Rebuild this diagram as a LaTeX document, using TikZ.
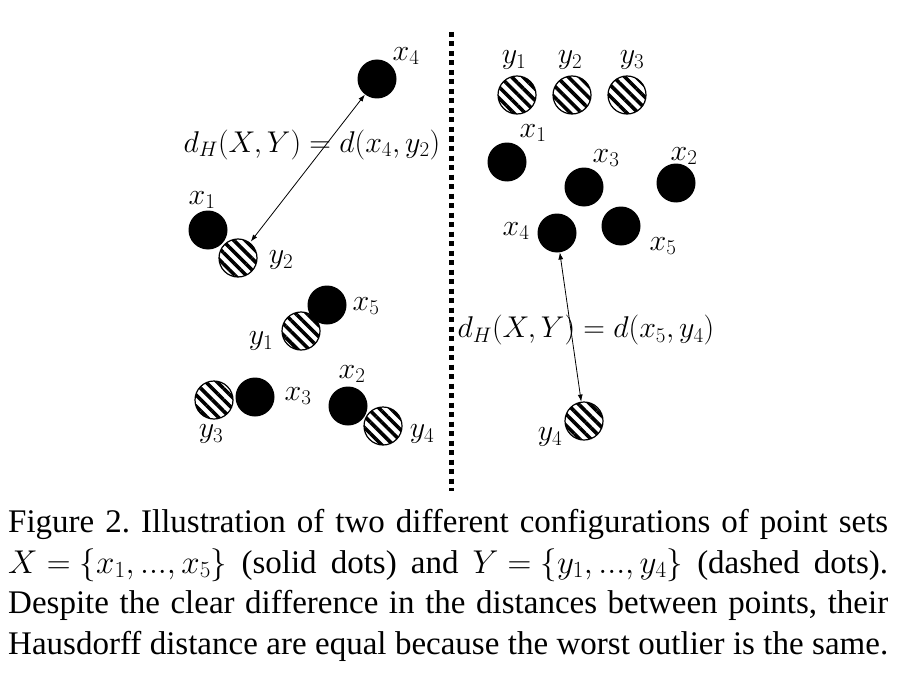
\RequirePackage{fix-cm}
\documentclass[tikz,border=0pt]{standalone}
\usepackage{amsmath}
\usepackage{fontspec}
\setmainfont{Liberation Serif}
\usepackage{tikz}
\usetikzlibrary{arrows.meta, patterns.meta}
\frenchspacing
\thickmuskip=5mu\relax

\begin{document}
\begin{tikzpicture}[x=1pt, y=-1pt,
  ptx/.style={circle, fill=black, minimum size=39pt, inner sep=0pt},
  pty/.style={circle, draw=black, line width=1.2pt, minimum size=38pt, inner sep=0pt,
              pattern={Lines[angle=-45, distance=8pt, line width=3.6pt]}},
  lbl/.style={inner sep=0pt, font=\fontsize{30}{34}\selectfont},
  arr/.style={{Latex[length=7pt,width=5pt]}-{Latex[length=7pt,width=5pt]}, line width=0.8pt},
  sepline/.style={line width=5pt, dash pattern=on 5pt off 4.5pt},
  capline/.style={anchor=base west, inner sep=0pt, font=\fontsize{33}{40}\selectfont}
]
  \useasboundingbox (0,0) rectangle (915,674);

  % left configuration
  \node[ptx] (lx4) at (377,79)  {};
  \node[ptx] (lx1) at (208,230) {};
  \node[pty] (ly2) at (238,258) {};
  \node[ptx] (lx5) at (327,305) {};
  \node[pty] (ly1) at (301,331) {};
  \node[pty] (ly3) at (214,400) {};
  \node[ptx] (lx3) at (255,397) {};
  \node[ptx] (lx2) at (348,406) {};
  \node[pty] (ly4) at (383,426) {};

  \node[lbl] (lx4l) at (406,56)  {$x_4$};
  \node[lbl] (lx1l) at (202,200) {$x_1$};
  \node[lbl] (ly2l) at (281,260) {$y_2$};
  \node[lbl] (lx5l) at (366,306) {$x_5$};
  \node[lbl] (ly1l) at (261,341) {$y_1$};
  \node[lbl] (lx3l) at (298,396) {$x_3$};
  \node[lbl] (lx2l) at (352,374) {$x_2$};
  \node[lbl] (ly3l) at (211,434) {$y_3$};
  \node[lbl] (ly4l) at (422,434) {$y_4$};

  \node[lbl] (lform) at (312,145) {$d_H(X,Y) = d(x_4,y_2)$};
  \draw[arr] (ly2) -- (lx4);

  % separator
  \coordinate (septop) at (451,32);
  \coordinate (sepbot) at (451,491);
  \draw[sepline] (septop) -- (sepbot);

  % right configuration
  \node[pty] (ry1) at (517,95)  {};
  \node[pty] (ry2) at (572,95)  {};
  \node[pty] (ry3) at (627,95)  {};
  \node[ptx] (rx1) at (507,162) {};
  \node[ptx] (rx3) at (584,187) {};
  \node[ptx] (rx2) at (676,183) {};
  \node[ptx] (rx4) at (557,233) {};
  \node[ptx] (rx5) at (621,226) {};
  \node[pty] (ry4) at (584,421) {};

  \node[lbl] (ry1l) at (514,60)  {$y_1$};
  \node[lbl] (ry2l) at (570,60)  {$y_2$};
  \node[lbl] (ry3l) at (632,60)  {$y_3$};
  \node[lbl] (rx1l) at (533,133) {$x_1$};
  \node[lbl] (rx3l) at (606,158) {$x_3$};
  \node[lbl] (rx2l) at (684,156) {$x_2$};
  \node[lbl] (rx4l) at (516,231) {$x_4$};
  \node[lbl] (rx5l) at (663,246) {$x_5$};
  \node[lbl] (ry4l) at (550,437) {$y_4$};

  \node[lbl] (rform) at (586,330) {$d_H(X,Y) = d(x_5,y_4)$};
  \draw[arr] (rx4) -- (ry4);

  % caption
  \node[capline] (cap1) at (8,532) {\makebox[880pt][s]{Figure 2. Illustration of two different configurations of point sets}};
  \node[capline] (cap2) at (8,573) {\makebox[880pt][s]{$X=\{x_1,...,x_5\}$ (solid dots) and $Y=\{y_1,...,y_4\}$ (dashed dots).}};
  \node[capline] (cap3) at (8,613) {\makebox[880pt][s]{Despite the clear difference in the distances between points, their}};
  \node[capline] (cap4) at (8,654) {\makebox[880pt][s]{Hausdorff distance are equal because the worst outlier is the same.}};
\end{tikzpicture}
\end{document}
